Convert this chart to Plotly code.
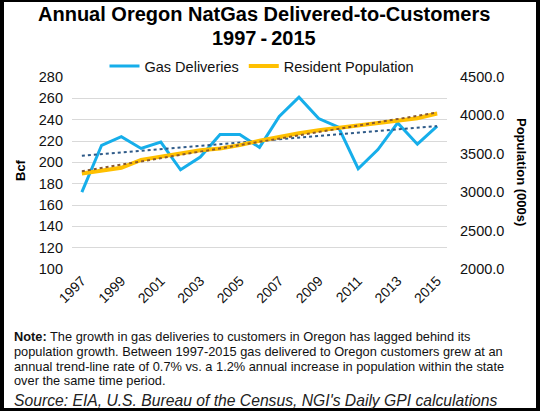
import numpy as np
import plotly.graph_objects as go

years = list(range(1997, 2016))
gas_bcf = [172, 216, 224, 213, 219, 193, 205, 226, 226, 214, 243, 261, 241, 233, 194, 212, 237, 217, 234]
population_k = [3243, 3282, 3317, 3421, 3467, 3513, 3547, 3570, 3613, 3670, 3722, 3768, 3808, 3838, 3872, 3899, 3922, 3963, 4024]
tick_years = [1997, 1999, 2001, 2003, 2005, 2007, 2009, 2011, 2013, 2015]

W, H = 540, 411
L, R, T, B = 72, 447, 77, 269  # plot area in pixels

def px2x(px):
    return (px - L) / (R - L)

def py2y(py):
    return (B - py) / (B - T)

FONT = "Liberation Sans, Arial, sans-serif"

yrs = np.array(years, dtype=float)
g_fit = np.polyfit(yrs, np.array(gas_bcf, dtype=float), 1)
p_fit = np.polyfit(yrs, np.array(population_k, dtype=float), 1)
gas_trend = np.polyval(g_fit, yrs)
pop_trend = np.polyval(p_fit, yrs)

fig = go.Figure()
fig.add_trace(go.Scatter(x=years, y=gas_bcf, mode="lines", name="Gas Deliveries",
                         line=dict(color="#16AEEA", width=3)))
fig.add_trace(go.Scatter(x=years, y=population_k, mode="lines", name="Resident Population",
                         yaxis="y2", line=dict(color="#FFC000", width=4)))
fig.add_trace(go.Scatter(x=years, y=gas_trend, mode="lines", showlegend=False,
                         line=dict(color="#2E5A88", width=2, dash="dot")))
fig.add_trace(go.Scatter(x=years, y=pop_trend, mode="lines", showlegend=False, yaxis="y2",
                         line=dict(color="#8A5A2E", width=2, dash="dot")))

fig.update_layout(
    width=W, height=H,
    margin=dict(l=L, r=W - R, t=T, b=H - B, pad=0),
    paper_bgcolor="white", plot_bgcolor="white",
    font=dict(family=FONT, size=14, color="#111"),
    showlegend=True,
    legend=dict(orientation="h", x=px2x(262), xanchor="center", y=py2y(66), yanchor="middle",
                font=dict(size=14.5, color="#111"), bgcolor="rgba(0,0,0,0)",
                tracegroupgap=0, itemwidth=30),
    xaxis=dict(range=[1996.5, 2015.5], tickvals=tick_years, ticktext=[str(y) for y in tick_years],
               tickangle=-45, showgrid=False, zeroline=False, showline=False, ticks="",
               tickfont=dict(size=14, color="#111")),
    yaxis=dict(range=[100, 280], dtick=20, showgrid=True, gridcolor="#D9D9D9", gridwidth=1,
               zeroline=False, showline=False, ticks="", ticklabelstandoff=8,
               tickfont=dict(size=14.5, color="#111")),
    yaxis2=dict(range=[2000, 4500], dtick=500, tickformat=".1f", overlaying="y", side="right",
                showgrid=False, zeroline=False, showline=False, ticks="", ticklabelstandoff=12,
                tickfont=dict(size=14.5, color="#111")),
)

ann = []
ann.append(dict(text="<b>Annual Oregon NatGas Delivered-to-Customers</b>", x=px2x(W / 2 - 6), y=py2y(14),
                font=dict(size=20, color="#000")))
ann.append(dict(text="<b>1997\u2009-\u20092015</b>", x=px2x(W / 2 - 6), y=py2y(38),
                font=dict(size=20, color="#000")))
ann.append(dict(text="<b>Bcf</b>", x=px2x(20), y=py2y(170), textangle=-90, font=dict(size=13, color="#000")))
ann.append(dict(text="<b>Population (000s)</b>", x=px2x(522), y=py2y(172), textangle=90,
                font=dict(size=13, color="#000")))
note_lines = [
    "<b>Note:</b> The growth in gas deliveries to customers in Oregon has lagged behind its",
    "population growth. Between 1997-2015 gas delivered to Oregon customers grew at an",
    "annual trend-line rate of 0.7% vs. a 1.2% annual increase in population within the state",
    "over the same time period.",
]
for i, t in enumerate(note_lines):
    ann.append(dict(text=t, x=px2x(12), y=py2y(336.5 + 14.8 * i), xanchor="left",
                    font=dict(size=12.8, color="#111")))
ann.append(dict(text="<i>Source: EIA, U.S. Bureau of the Census, NGI's Daily GPI calculations</i>",
                x=px2x(12), y=py2y(400), xanchor="left", font=dict(size=15.7, color="#222")))
for a in ann:
    a.setdefault("xanchor", "center")
    a.update(xref="paper", yref="paper", showarrow=False, yanchor="middle")
fig.update_layout(annotations=ann)

# black frame around the image
frame = [(0, 0, W, 2), (0, 0, 4, H), (W - 4, 0, W, H), (0, H - 3, W, H)]
fig.update_layout(shapes=[dict(type="rect", xref="paper", yref="paper",
                               x0=px2x(a), x1=px2x(c), y0=py2y(b), y1=py2y(d),
                               fillcolor="black", line=dict(width=0), layer="above")
                          for a, b, c, d in frame])

fig.write_html("out.html")
